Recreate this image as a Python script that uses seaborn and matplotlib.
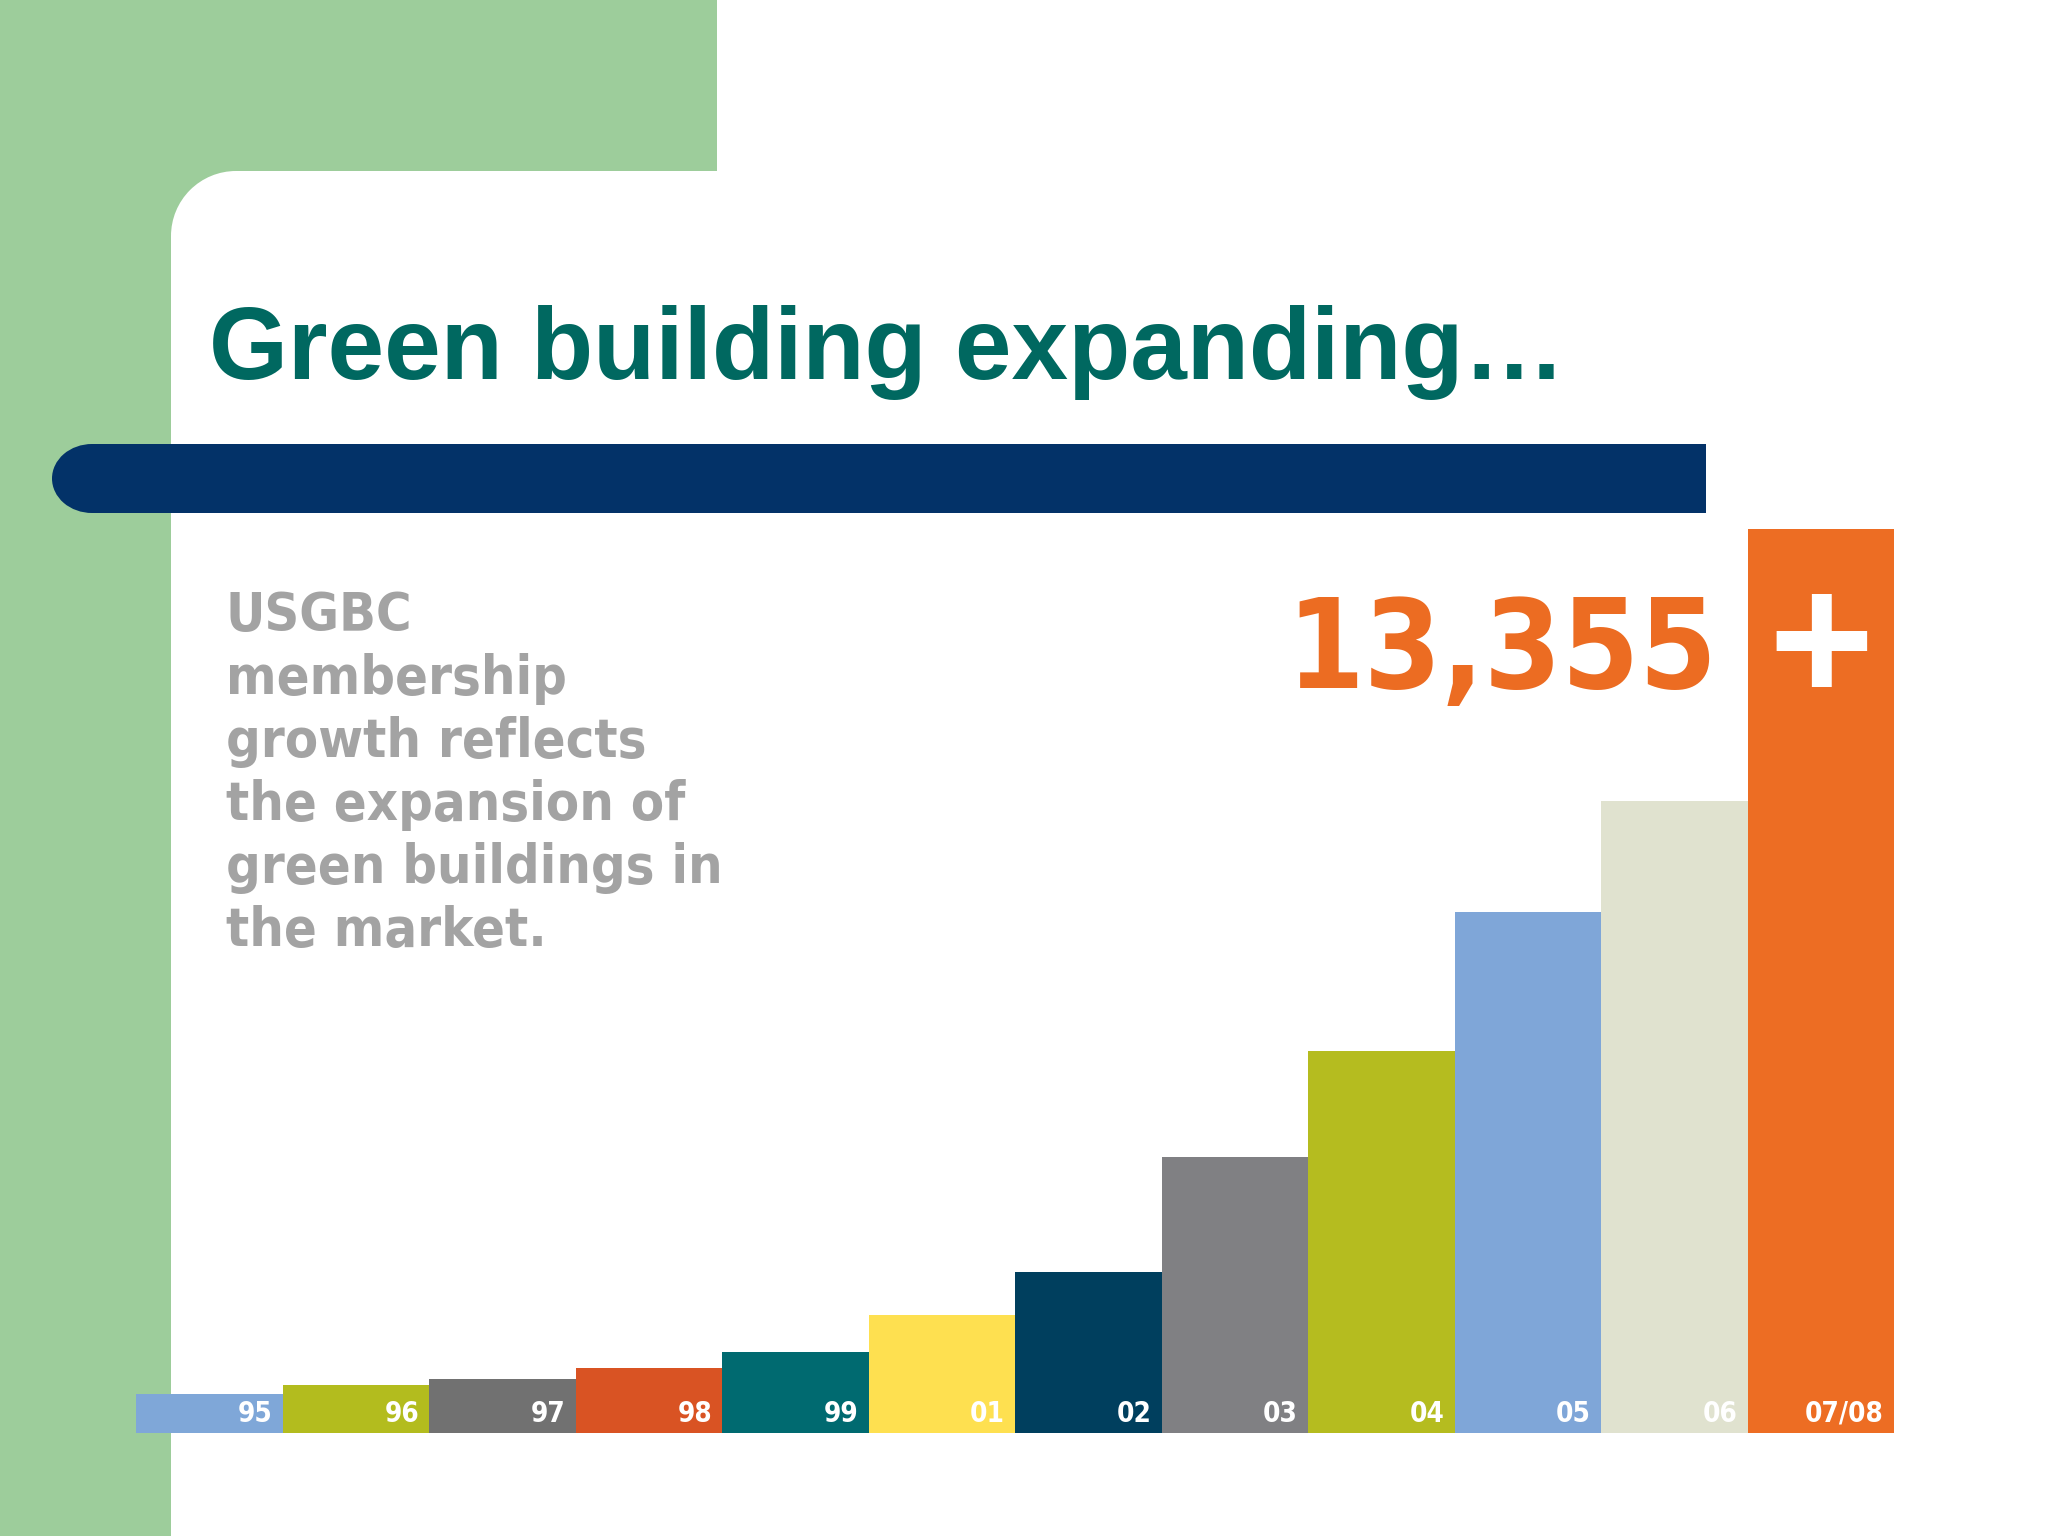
import matplotlib
matplotlib.use("Agg")
import matplotlib.pyplot as plt
import seaborn as sns
import pandas as pd
from matplotlib import font_manager
from matplotlib.patches import Rectangle, Circle, Ellipse
from matplotlib.transforms import blended_transform_factory

# ------------ DATA ------------
years = ["95", "96", "97", "98", "99", "01", "02", "03", "04", "05", "06", "07/08"]
members = [579, 714, 791, 965, 1196, 1737, 2374, 4072, 5636, 7701, 9341, 13355]
bar_colors = ["#7fa7d8", "#b3bc1e", "#717171", "#d95323", "#006a70", "#fee050",
              "#003f5e", "#808083", "#b5bc1f", "#7fa6d8", "#e0e2cf", "#ed6d23"]

TITLE = "Green building expanding\u2026"
BLURB = ["USGBC", "membership", "growth reflects", "the expansion of",
         "green buildings in", "the market."]

GREEN = "#9dcd9b"
NAVY = "#033268"
TEAL = "#006860"
GREY_TXT = "#a3a3a3"
ORANGE = "#ec6c22"

# ------------ FONTS ------------
sns.set_theme(style="white")
avail = {f.name for f in font_manager.fontManager.ttflist}


def pick(*names):
    for n in names:
        if n in avail:
            return n
    return "DejaVu Sans"


plt.rcParams["font.family"] = ["Liberation Sans", "DejaVu Sans"]
NARROW = pick("Liberation Sans Narrow", "DejaVu Sans")

# ------------ FIGURE / BACKGROUND (pixel coords) ------------
fig = plt.figure(figsize=(20.48, 15.36), dpi=100)
fig.patch.set_facecolor("white")
bg = fig.add_axes([0, 0, 1, 1])
bg.set_xlim(0, 2048)
bg.set_ylim(1536, 0)
bg.axis("off")

bg.add_patch(Rectangle((0, 0), 171, 1536, color=GREEN, lw=0))
bg.add_patch(Rectangle((0, 0), 717, 171, color=GREEN, lw=0))
bg.add_patch(Rectangle((171, 171), 65, 65, color=GREEN, lw=0))
bg.add_patch(Circle((236, 236), 65, color="white", lw=0))

# navy rule with rounded left end
bg.add_patch(Rectangle((92, 444), 1706 - 92, 69, color=NAVY, lw=0))
bg.add_patch(Ellipse((92, 478.5), 80, 69, color=NAVY, lw=0))

# ------------ BARS ------------
ax = fig.add_axes([136 / 2048, 103 / 1536, (1894 - 136) / 2048, (1433 - 529) / 1536])
ax.set_facecolor("none")
df = pd.DataFrame({"year": years, "members": members})
sns.barplot(data=df, x="year", y="members", hue="year",
            palette=dict(zip(years, bar_colors)), width=1, saturation=1,
            linewidth=0, legend=False, ax=ax)
ax.set_xlim(-0.5, len(years) - 0.5)
ax.set_ylim(0, max(members))
ax.axis("off")

for i, yr in enumerate(years):
    ax.annotate(yr, xy=(i + 0.5, 0), xytext=(-10, 11), textcoords="offset pixels",
                ha="right", va="baseline", color="white", fontsize=20,
                fontweight="bold", fontfamily=NARROW, fontstretch="condensed")

blend = blended_transform_factory(ax.transData, ax.transAxes)
ax.text(len(years) - 1, 0.81, "+", transform=blend, ha="center", va="baseline",
        color="white", fontsize=130, fontweight="bold")

# ------------ TEXT ------------
title = bg.text(209, 379, TITLE, ha="left", va="baseline", fontsize=78,
                fontweight="bold", color=TEAL)

blurb = []
for k, line in enumerate(BLURB):
    blurb.append(bg.text(226, 631 + 63 * k, line, ha="left", va="baseline",
                         fontsize=40, fontweight="bold", color=GREY_TXT,
                         fontfamily=NARROW, fontstretch="condensed"))

big = bg.text(1717, 688, f"{members[-1]:,}", ha="right", va="baseline",
              fontsize=94, fontweight="bold", color=ORANGE,
              fontfamily=NARROW, fontstretch="condensed")

# scale texts to the widths measured on the reference
fig.canvas.draw()
r = fig.canvas.get_renderer()


def fit(texts, ref, target):
    w = ref.get_window_extent(renderer=r).width
    s = target / w
    for t in texts:
        t.set_fontsize(t.get_fontsize() * s)


fit([title], title, 1358)
fit(blurb, blurb[4], 496)
fit([big], big, 431)

fig.savefig("out.png", dpi=100)
